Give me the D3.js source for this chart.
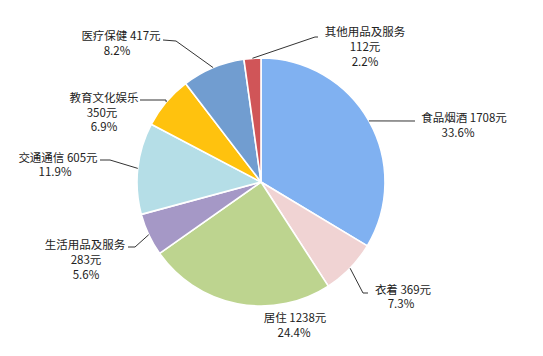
<!DOCTYPE html>
<html>
<head>
<meta charset="utf-8">
<script src="https://cdn.jsdelivr.net/npm/d3@7"></script>
<style>
  body { margin: 0; background: #fff; }
  text { font-family: "Noto Sans CJK SC", "Noto Sans", sans-serif; fill: #222; }
</style>
</head>
<body>
<div id="chart"></div>
<script>
// data
const categories = ["食品烟酒", "衣着", "居住", "生活用品及服务", "交通通信", "教育文化娱乐", "医疗保健", "其他用品及服务"];
const amounts = [1708, 369, 1238, 283, 605, 350, 417, 112];
const shares = ["33.6%", "7.3%", "24.4%", "5.6%", "11.9%", "6.9%", "8.2%", "2.2%"];
const colors = ["#80b1f1", "#f0d3d3", "#bdd48f", "#a598c6", "#b5dee7", "#ffc20e", "#719dd0", "#d05558"];

// label layout (Excel style): text lines [x, y] and leader elbow points
const labelLayout = [
  {lines: [["食品烟酒 1708元", 464, 118], ["33.6%", 458, 133]], leader: [[415, 121]]},
  {lines: [["衣着 369元", 403, 290], ["7.3%", 401, 304]], leader: [[363, 293], [368, 293]]},
  {lines: [["居住 1238元", 295, 318], ["24.4%", 294, 333]], leader: null},
  {lines: [["生活用品及服务", 85, 245], ["283元", 86, 260], ["5.6%", 86, 275]], leader: [[135, 247], [128, 247]]},
  {lines: [["交通通信 605元", 58, 158], ["11.9%", 55, 172]], leader: [[110, 160], [100, 160]]},
  {lines: [["教育文化娱乐", 104, 98], ["350元", 102, 113], ["6.9%", 104, 127]], leader: [[166, 100], [140, 100]]},
  {lines: [["医疗保健 417元", 121, 36], ["8.2%", 117, 51]], leader: [[176, 41], [163, 40]]},
  {lines: [["其他用品及服务", 365, 32], ["112元", 365, 47], ["2.2%", 365, 62]], leader: [[315, 37], [318, 37]]}
];

const width = 543, height = 356;
const cx = 261, cy = 182, radius = 124;

const svg = d3.select("#chart").append("svg")
  .attr("width", width)
  .attr("height", height);

const pie = d3.pie().sort(null).value(d => d.value);
const arcs = pie(categories.map((c, i) => ({name: c, value: amounts[i], i: i})));

const arc = d3.arc().innerRadius(0).outerRadius(radius);

const g = svg.append("g").attr("transform", `translate(${cx},${cy})`);

g.selectAll("path.slice")
  .data(arcs)
  .join("path")
  .attr("class", "slice")
  .attr("d", arc)
  .attr("fill", d => colors[d.data.i])
  .attr("stroke", "#fff")
  .attr("stroke-width", 1.6)
  .attr("stroke-linejoin", "round");

// leader lines start on the rim at the slice's mid angle
const line = d3.line();
arcs.forEach(d => {
  const lay = labelLayout[d.data.i];
  if (!lay.leader) return;
  const a = (d.startAngle + d.endAngle) / 2;
  const start = [cx + radius * Math.sin(a), cy - radius * Math.cos(a)];
  svg.append("path")
    .attr("d", line([start].concat(lay.leader)))
    .attr("fill", "none")
    .attr("stroke", "#333")
    .attr("stroke-width", 1);
});

labelLayout.forEach(lay => {
  lay.lines.forEach(l => {
    svg.append("text")
      .attr("x", l[1])
      .attr("y", l[2])
      .attr("dy", "0.35em")
      .attr("text-anchor", "middle")
      .style("font-size", "11.5px")
      .text(l[0]);
  });
});
</script>
</body>
</html>
